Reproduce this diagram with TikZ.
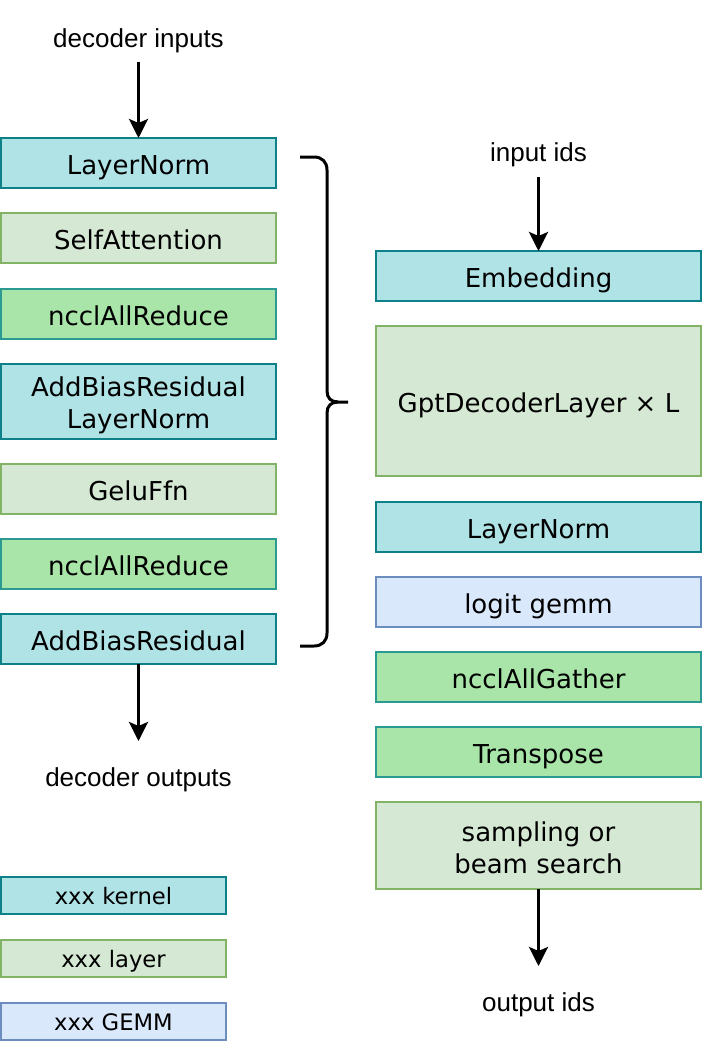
\documentclass[tikz,border=0pt]{standalone}
\usepackage{fontspec}
\setmainfont{DejaVu Sans}
\newfontfamily\labelfont{Liberation Sans}
\usetikzlibrary{arrows.meta}
\definecolor{kernelfill}{HTML}{B0E3E6}
\definecolor{kerneldraw}{HTML}{0E8088}
\definecolor{layerfill}{HTML}{D5E8D4}
\definecolor{layerdraw}{HTML}{82B366}
\definecolor{gemmfill}{HTML}{DAE8FC}
\definecolor{gemmdraw}{HTML}{6C8EBF}
\definecolor{ncclfill}{HTML}{A9E5A9}
\definecolor{nccldraw}{HTML}{2A9A92}

\begin{document}
\begin{tikzpicture}[x=1pt, y=-1pt, font=\fontsize{26}{31.6}\selectfont,
    every node/.style={inner sep=2pt,outer sep=0pt,align=center},
    box/.style={draw, line width=1.5pt, minimum height=50pt, text height=22pt, text depth=0pt},
    kernel/.style={box, fill=kernelfill, draw=kerneldraw},
    layer/.style={box, fill=layerfill, draw=layerdraw},
    gemm/.style={box, fill=gemmfill, draw=gemmdraw},
    nccl/.style={box, fill=ncclfill, draw=nccldraw},
    lbl/.style={font=\labelfont\fontsize{26}{30}\selectfont},
    flow/.style={line width=3pt, -{Stealth[length=19pt,width=19pt,inset=4pt]}},
    left/.style={minimum width=275pt},
    right/.style={minimum width=325pt},
    legend/.style={minimum width=225pt, minimum height=37pt, text height=18pt,
      font=\fontsize{22.7}{26}\selectfont}]
      \useasboundingbox (0,0) rectangle (720,1041);

      % decoder layer
      \draw (138.5,41) node[lbl] (din) {decoder inputs};
      \draw (138.5,163) node[kernel, left] (l1) {LayerNorm};
      \draw (138.5,238) node[layer, left] (l2) {SelfAttention};
      \draw (138.5,314) node[nccl, left] (l3) {ncclAllReduce};
      \draw (138.5,401.5) node[kernel, left, minimum height=75pt, text height=53.6pt] (l4) {AddBiasResidual\\LayerNorm};
      \draw (138.5,489) node[layer, left] (l5) {GeluFfn};
      \draw (138.5,564) node[nccl, left] (l6) {ncclAllReduce};
      \draw (138.5,639) node[kernel, left] (l7) {AddBiasResidual};
      \draw (138.5,780) node[lbl] (dout) {decoder outputs};
      \coordinate (dinend) at (138.5,62);
      \coordinate (doutend) at (138.5,741);

      \draw[flow] (dinend) -- (l1.north);
      \draw[flow] (l7.south) -- (doutend);

      % brace
      \draw[line width=3pt] (300,157) -- (314,157) .. controls (322,157) and (327,162) .. (327,170)
        -- (327,391) .. controls (327,398) and (331,402) .. (338,402) -- (348,402);
      \draw[line width=3pt] (338,402) .. controls (331,402) and (327,406) .. (327,413)
        -- (327,633) .. controls (327,641) and (322,646) .. (314,646) -- (300,646);

      % gpt
      \draw (538.5,155) node[lbl] (ids) {input ids};
      \draw (538.5,276) node[kernel, right] (r1) {Embedding};
      \draw (538.5,401) node[layer, right, minimum height=150pt] (r2) {GptDecoderLayer × L};
      \draw (538.5,527) node[kernel, right] (r3) {LayerNorm};
      \draw (538.5,602) node[gemm, right] (r4) {logit gemm};
      \draw (538.5,677) node[nccl, right] (r5) {ncclAllGather};
      \draw (538.5,752) node[nccl, right] (r6) {Transpose};
      \draw (538.5,845.5) node[layer, right, minimum height=87pt, text height=56pt] (r7) {sampling or\\beam search};
      \draw (538.5,1005) node[lbl] (oids) {output ids};
      \coordinate (idsend) at (538.5,177);
      \coordinate (oidsend) at (538.5,966);

      \draw[flow] (idsend) -- (r1.north);
      \draw[flow] (r7.south) -- (oidsend);

      % legend
      \draw (113.5,895.5) node[kernel, legend] (k) {xxx kernel};
      \draw (113.5,958.5) node[layer, legend] (y) {xxx layer};
      \draw (113.5,1021.5) node[gemm, legend] (g) {xxx GEMM};
    \end{tikzpicture}
\end{document}
